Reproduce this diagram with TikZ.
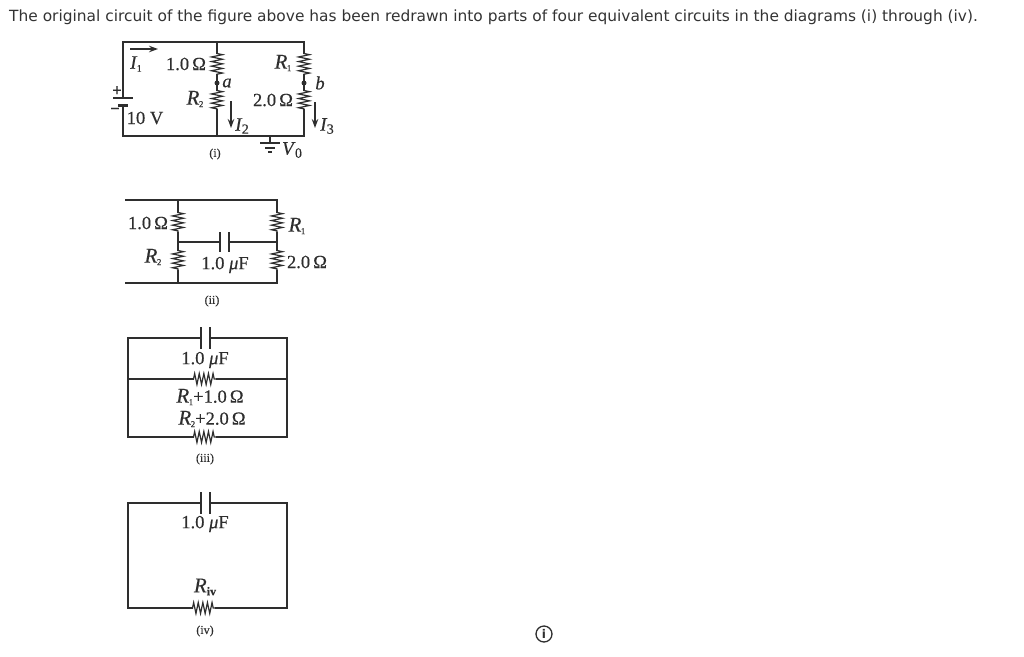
\documentclass[tikz,border=0pt]{standalone}
\usepackage{fontspec}
\setmainfont{Liberation Serif}[RawFeature={embolden=0.35}]
\newfontfamily\titlefont{DejaVu Sans}
\usetikzlibrary{decorations.pathmorphing,arrows.meta}
\definecolor{ink}{HTML}{2E2E2E}
\definecolor{titleink}{HTML}{333333}
\tikzset{
 wire/.style={draw=ink,line width=1.3pt,line cap=rect},
 res/.style={draw=ink,line width=1.2pt,decorate,decoration={zigzag,segment length=4.6pt,amplitude=5.5pt,pre length=0.5pt,post length=0.5pt}},
 plate/.style={draw=ink,line width=1.8pt},
 flow/.style={draw=ink,line width=1.2pt,-{Stealth[length=9pt,width=6.5pt]}},
 lab/.style={text=ink,font=\fontsize{18.5}{20}\selectfont,inner sep=0pt,yshift=-1pt},
 figcap/.style={text=ink,font=\fontsize{12}{14}\selectfont,inner sep=0pt},
 dot/.style={circle,fill=ink,inner sep=0pt,minimum size=5pt}
}
\newcommand{\RR}[1]{{\fontsize{21}{22}\selectfont\textit{R}}\kern-.5pt\raisebox{-2.5pt}{\fontsize{9}{9}\selectfont #1}}
\newcommand{\II}[2]{{\fontsize{19}{20}\selectfont\textit{#1}}\kern-.5pt\raisebox{-3pt}{\fontsize{14}{14}\selectfont #2}}
\begin{document}
\begin{tikzpicture}[x=1pt,y=-1pt]
\useasboundingbox (0,0) rectangle (1024,656);
\node[anchor=west,inner sep=0pt,text=titleink,font=\titlefont\fontsize{15.42}{17}\selectfont] (title) at (9,17.5) {The original circuit of the figure above has been redrawn into parts of four equivalent circuits in the diagrams (i) through (iv).};
% (i)
\foreach \n/\x/\y in {tl/123/42,tm/217/42,tr/304/42,bl/123/136,bm/217/136,br/304/136,gt/270/136,gb/270/143,
 batp/123/98,batm/123/105,
 ra/217/53,rb/217/75,rc/217/90,rd/217/110,
 sa/304/53,sb/304/75,sc/304/90,sd/304/110,
 pl/113/98,pr/133/98,ml/118/105,mr/128/105,
 g1l/260/143,g1r/280/143,g2l/265/148,g2r/275/148,g3l/268/152,g3r/272/152,
 i1a/130/49,i1b/158/49,i2a/231/101,i2b/231/128,i3a/315/102,i3b/315/128}
 {\coordinate (\n) at (\x,\y);}
\node[dot] (a) at (217,83) {};
\node[dot] (b) at (304,83) {};
\draw[wire] (batp) -- (tl) -- (tr) -- (sa);
\draw[wire] (batm) -- (bl) -- (br) -- (sd);
\draw[wire] (tm) -- (ra) (rb) -- (a) -- (rc) (rd) -- (bm);
\draw[wire] (sb) -- (b) -- (sc);
\draw[wire] (gt) -- (gb);
\draw[res] (ra) -- (rb); \draw[res] (rc) -- (rd);
\draw[res] (sa) -- (sb); \draw[res] (sc) -- (sd);
\draw[plate] (pl) -- (pr);
\draw[draw=ink,line width=3pt] (ml) -- (mr);
\draw[plate] (g1l) -- (g1r) (g2l) -- (g2r) (g3l) -- (g3r);
\draw[flow] (i1a) -- (i1b);
\draw[flow] (i2a) -- (i2b);
\draw[flow] (i3a) -- (i3b);
\node[lab] (li1) at (136,63) {\II{I}{\fontsize{10}{10}\selectfont 1}};
\node[lab] (l1o) at (186,63) {1.0\,Ω};
\node[lab] (la) at (227,82) {\textit{a}};
\node[lab] (lr2) at (195,98) {\RR{2}};
\node[lab] (lv) at (145,117) {10 V};
\node[lab,font=\fontsize{17}{17}\selectfont\bfseries] (lp) at (117,90) {+};
\node[lab,font=\fontsize{17}{17}\selectfont\bfseries] (lm) at (115,110) {−};
\node[lab] (li2) at (242,125) {\II{I}{2}};
\node[lab] (lr1) at (283,62) {\RR{1}};
\node[lab] (lb) at (320,82) {\textit{b}};
\node[lab] (l2o) at (273,99) {2.0\,Ω};
\node[lab] (li3) at (327,125) {\II{I}{3}};
\node[lab] (lv0) at (292,149) {\II{V}{0}};
\node[figcap] (c1) at (215,154) {(i)};
% (ii)
\foreach \n/\x/\y in {ul/126/200,um/178/200,ur/277/200,dl/126/283,dm/178/283,dr/277/283,
 e1/178/212,e2/178/233,e3/178/250,e4/178/271,f1/277/212,f2/277/233,f3/277/250,f4/277/271,
 mm/178/242,nn/277/242,ca/220/242,cb/229/242,ca1/220/232,ca2/220/252,cb1/229/232,cb2/229/252}
 {\coordinate (\n) at (\x,\y);}
\draw[wire] (ul) -- (ur) -- (f1) (f2) -- (f3) (f4) -- (dr) -- (dl);
\draw[wire] (um) -- (e1) (e2) -- (e3) (e4) -- (dm);
\draw[wire] (mm) -- (ca) (cb) -- (nn);
\draw[res] (e1) -- (e2); \draw[res] (e3) -- (e4);
\draw[res] (f1) -- (f2); \draw[res] (f3) -- (f4);
\draw[plate] (ca1) -- (ca2) (cb1) -- (cb2);
\node[lab] (l2a) at (148,222) {1.0\,Ω};
\node[lab] (l2b) at (153,256) {\RR{2}};
\node[lab] (l2c) at (225,264) {1.0 \textit{μ}F};
\node[lab] (l2d) at (297,225) {\RR{1}};
\node[lab] (l2e) at (307,261) {2.0\,Ω};
\node[figcap] (c2) at (212,301) {(ii)};
% (iii)
\foreach \n/\x/\y in {al/128/338,ar/287/338,hl/128/379,hr/287/379,zl/128/437,zr/287/437,
 a1/201/338,a2/210/338,a3/201/327,a4/201/349,a5/210/327,a6/210/349,
 h1/193/379,h2/217/379,z1/193/437,z2/217/437}
 {\coordinate (\n) at (\x,\y);}
\draw[wire] (a1) -- (al) -- (zl) -- (z1) (z2) -- (zr) -- (ar) -- (a2);
\draw[wire] (hl) -- (h1) (h2) -- (hr);
\draw[res] (h1) -- (h2); \draw[res] (z1) -- (z2);
\draw[plate] (a3) -- (a4) (a5) -- (a6);
\node[lab] (l3a) at (205,359) {1.0 \textit{μ}F};
\node[lab] (l3b) at (210,396) {\RR{1}+1.0\,Ω};
\node[lab] (l3c) at (212,418) {\RR{2}+2.0\,Ω};
\node[figcap] (c3) at (205,459) {(iii)};
% (iv)
\foreach \n/\x/\y in {vl/128/503,vr/287/503,wl/128/608,wr/287/608,
 v1/201/503,v2/210/503,v3/201/492,v4/201/514,v5/210/492,v6/210/514,w1/192/608,w2/216/608}
 {\coordinate (\n) at (\x,\y);}
\draw[wire] (v1) -- (vl) -- (wl) -- (w1) (w2) -- (wr) -- (vr) -- (v2);
\draw[res] (w1) -- (w2);
\draw[plate] (v3) -- (v4) (v5) -- (v6);
\node[lab] (l4a) at (205,523) {1.0 \textit{μ}F};
\node[lab] (l4b) at (205,586) {\fontsize{21}{21}\selectfont\textit{R}\raisebox{-3pt}{\fontsize{12}{12}\selectfont\bfseries iv}};
\node[figcap] (c4) at (205,631) {(iv)};
% info icon
\node[circle,draw=ink,line width=1.3pt,minimum size=16pt,inner sep=0pt,text=ink,font=\titlefont\bfseries\fontsize{12}{12}\selectfont] (info) at (544,634) {i};
\end{tikzpicture}
\end{document}
